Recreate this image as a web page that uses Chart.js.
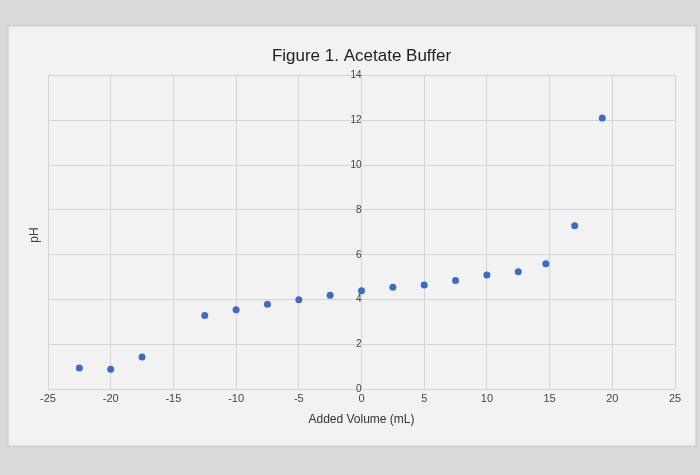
<!DOCTYPE html>
<html>
<head>
<meta charset="utf-8">
<script src="https://cdn.jsdelivr.net/npm/chart.js@4"></script>
<style>
  body{margin:0;background:#d9d9dc;}
  #wrap{width:700px;height:475px;}
</style>
</head>
<body>
<div id="wrap"><canvas id="myChart"></canvas></div>
<script>
const addedVolume = [-22.5, -20, -17.5, -12.5, -10, -7.5, -5, -2.5, 0, 2.5, 5, 7.5, 10, 12.5, 14.7, 17, 19.2];
const phValues = [0.95, 0.9, 1.45, 3.3, 3.55, 3.8, 4.0, 4.2, 4.4, 4.55, 4.65, 4.85, 5.1, 5.25, 5.6, 7.3, 12.1];

// light panel behind the chart + rotated "pH" label
const panel = {
  id:'panel',
  beforeDraw(chart){
    const ctx = chart.ctx;
    ctx.save();
    ctx.fillStyle = '#f2f2f3';
    ctx.fillRect(8, 26, 688, 420);
    ctx.strokeStyle = '#c8c8cc';
    ctx.strokeRect(8, 26, 688, 420);
    ctx.restore();
  },
  afterDraw(chart){
    const ctx = chart.ctx;
    ctx.save();
    ctx.translate(35, 235);
    ctx.rotate(-Math.PI/2);
    ctx.fillStyle = '#444';
    ctx.font = '12px "Liberation Sans", Arial';
    ctx.textAlign = 'center';
    ctx.textBaseline = 'middle';
    ctx.fillText('pH', 0, 0);
    ctx.restore();
  }
};

new Chart('myChart', {
  type:'scatter',
  data:{
    datasets:[{
      data: addedVolume.map((x,i)=>({x:x, y:phValues[i]})),
      pointRadius:3.5,
      pointBackgroundColor:'#3d6cc0',
      pointBorderWidth:0
    }]
  },
  plugins:[panel],
  options:{
    responsive:true,
    maintainAspectRatio:false,
    animation:false,
    layout:{padding:{left:48, right:25, top:10, bottom:44}},
    plugins:{
      legend:{display:false},
      tooltip:{enabled:false},
      title:{
        display:true,
        text:'Figure 1. Acetate Buffer',
        color:'#222',
        font:{size:17, family:'"Liberation Sans", Arial', weight:'normal'},
        padding:{top:36, bottom:9}
      }
    },
    scales:{
      x:{
        type:'linear',
        min:-25, max:25,
        ticks:{stepSize:5, color:'#444', font:{size:11, family:'"Liberation Sans", Arial'}},
        grid:{color:'#d4d4d6', drawTicks:false},
        border:{display:false},
        title:{display:true, text:'Added Volume (mL)', color:'#333', font:{size:12, family:'"Liberation Sans", Arial'}}
      },
      y:{
        position:{x:0},
        min:0, max:14,
        ticks:{stepSize:2, color:'#444', font:{size:10, family:'"Liberation Sans", Arial'}},
        grid:{color:'#d4d4d6', drawTicks:false},
        border:{display:false}
      }
    }
  }
});
</script>
</body>
</html>
